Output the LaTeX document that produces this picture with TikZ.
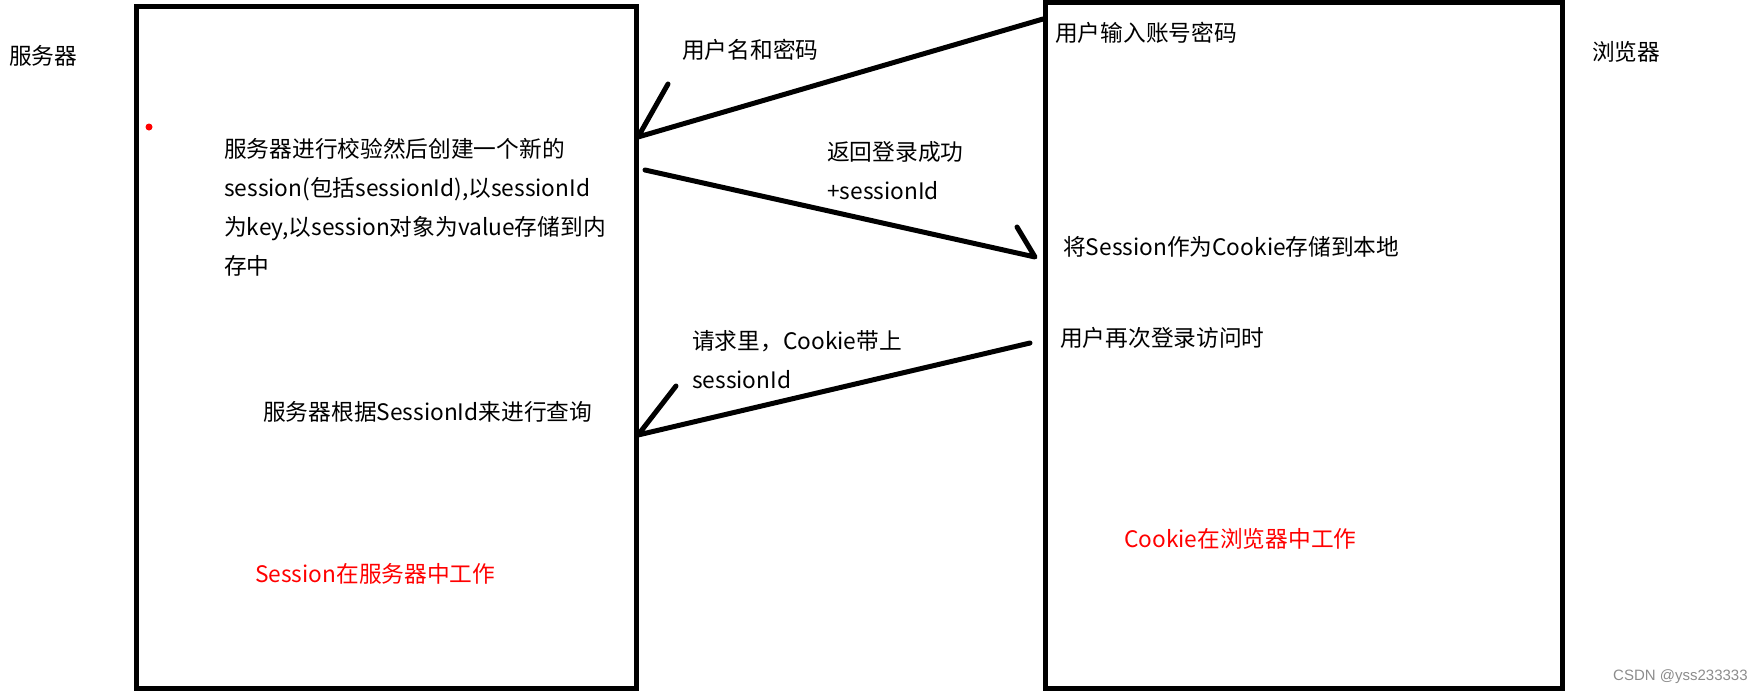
\documentclass[tikz,border=0pt]{standalone}
\usepackage{fontspec}
\newfontfamily\cjk{Noto Sans CJK SC}
\newfontfamily\wmfont{Liberation Sans}

\tikzset{
    box/.style={draw, line width=5pt, inner sep=0pt, outer sep=0pt},
    conn/.style={line width=5pt, line cap=round, line join=round},
    lbl/.style={anchor=west, inner sep=0pt, align=left, font=\cjk\fontsize{22.7}{39}\selectfont},
    note/.style={lbl, text=red},
}

\begin{document}
\begin{tikzpicture}[x=1pt, y=-1pt]
    \useasboundingbox (0,0) rectangle (1760,691);

            % Server and browser boxes
            \node[box, minimum width=500pt, minimum height=681.5pt] (server) at (386,347.25) {};
            \node[box, minimum width=517pt, minimum height=685.5pt] (browser) at (1303.5,345.25) {};

            % Side titles
            \node[lbl] (srvname) at (9,56) {服务器};
            \node[lbl] (brwname) at (1592,52) {浏览器};

            % Stray red dot
            \fill[red] (149,127) circle (3.5);

            % Texts inside the server box
            \node[lbl] (check) at (224,207) {服务器进行校验然后创建一个新的\\session(包括sessionId),以sessionId\\为key,以session对象为value存储到内\\存中};
            \node[lbl] (query) at (263,412) {服务器根据SessionId来进行查询};
            \node[note] (srvnote) at (255,574) {Session在服务器中工作};

            % Texts inside the browser box
            \node[lbl] (input) at (1055,33) {用户输入账号密码};
            \node[lbl] (store) at (1063,247) {将Session作为Cookie存储到本地};
            \node[lbl] (again) at (1060,338) {用户再次登录访问时};
            \node[note] (cknote) at (1124,539) {Cookie在浏览器中工作};

            % Message labels
            \node[lbl] (creds) at (682,50) {用户名和密码};
            \node[lbl] (reply) at (827,171) {返回登录成功\\+sessionId};
            \node[lbl] (carry) at (692,360) {请求里，Cookie带上\\sessionId};

            % Arrow ends on the box edges
            \coordinate (loginOut) at (1043,19);
            \coordinate (loginIn) at (638,137);
            \coordinate (replyOut) at (645,170);
            \coordinate (replyIn) at (1035,257);
            \coordinate (reqOut) at (1030,343);
            \coordinate (reqIn) at (638,435);

            % Hand drawn arrows (line plus one barb)
            \draw[conn] (loginOut) -- (loginIn) -- ++(30,-53);
            \draw[conn] (replyOut) -- (replyIn) -- ++(-18,-30);
            \draw[conn] (reqOut) -- (reqIn) -- ++(38,-49);

            % Watermark
            \node[anchor=west, inner sep=0pt, text=black!45, font=\wmfont\fontsize{15}{15}\selectfont] (mark) at (1613,677) {CSDN @yss233333};

        \end{tikzpicture}
\end{document}
